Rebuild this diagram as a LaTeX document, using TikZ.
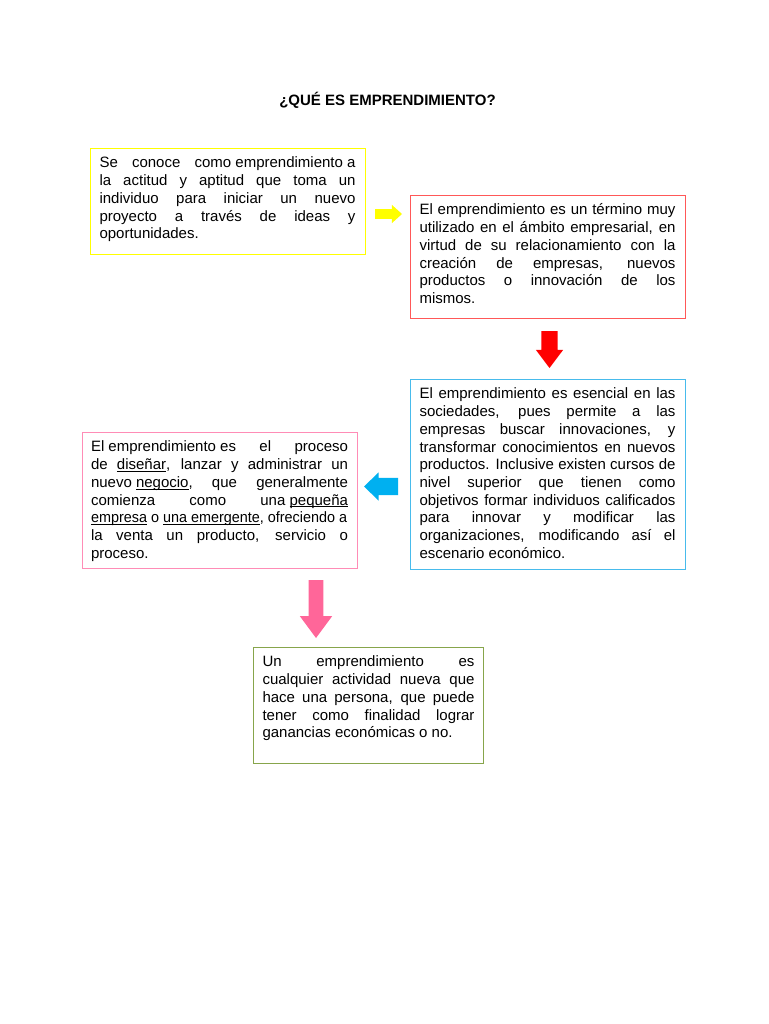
\documentclass[tikz,border=0pt]{standalone}
\usepackage{fontspec}
\usepackage{graphicx}
\setmainfont{Liberation Sans}
\usetikzlibrary{shapes.arrows,calc}
\definecolor{ybox}{RGB}{255,255,0}
\definecolor{rbox}{RGB}{255,88,88}
\definecolor{bbox}{RGB}{72,187,236}
\definecolor{pbox}{RGB}{255,140,182}
\definecolor{gbox}{RGB}{135,165,75}
\definecolor{yarr}{RGB}{255,255,0}
\definecolor{rarr}{RGB}{255,0,0}
\definecolor{carr}{RGB}{0,176,240}
\definecolor{parr}{RGB}{255,102,153}
\newcommand\myul[1]{\underline{\smash{#1}}}
\tolerance=10000
\hyphenpenalty=10000
\begin{document}
\begin{tikzpicture}[x=1pt,y=1pt,
  box/.style={draw, line width=1.4pt, anchor=north west, inner sep=0pt},
  txt/.style={anchor=north west, inner sep=0pt, outer sep=0pt, text width=256pt,
    align=justify, font=\fontsize{15pt}{17.7pt}\selectfont},
  blockarrow/.style={single arrow, draw=none, anchor=tail, inner xsep=0pt,
    outer sep=0pt}]
\useasboundingbox[fill=white] (0,0) rectangle (768,-1024);

\node[anchor=base, font=\fontsize{15pt}{18pt}\selectfont\bfseries] (title) at (387.5,-106) {¿QUÉ ES EMPRENDIMIENTO?};

% boxes
\node[box, draw=ybox, minimum width=275pt, minimum height=106pt] (b1) at (90,-148) {};
\node[box, draw=rbox, minimum width=275pt, minimum height=123pt] (b2) at (410,-195) {};
\node[box, draw=bbox, minimum width=275pt, minimum height=190pt] (b3) at (410,-379) {};
\node[box, draw=pbox, minimum width=275pt, minimum height=136pt] (b4) at (82,-432) {};
\node[box, draw=gbox, minimum width=230pt, minimum height=116pt] (b5) at (253,-647) {};

% texts
\node[txt] (t1) at ($(b1.north west)+(9.5,-7.6)$) {\strut Se\hfill conoce\hfill como emprendimiento a\linebreak
la actitud y aptitud que toma un\linebreak
individuo para iniciar un nuevo\linebreak
proyecto a través de ideas y\linebreak
oportunidades.};

\node[txt] (t2) at ($(b2.north west)+(9.5,-7.6)$) {\strut El emprendimiento es un término muy\linebreak
utilizado en el ámbito empresarial, en\linebreak
virtud de su relacionamiento con la\linebreak
creación de empresas, nuevos\linebreak
productos o innovación de los\linebreak
mismos.};

\node[txt] (t3) at ($(b3.north west)+(9.5,-7.6)$) {\strut El emprendimiento es esencial en las\linebreak
sociedades, pues permite a las\linebreak
empresas buscar innovaciones, y\linebreak
transformar conocimientos en nuevos\linebreak
productos. Inclusive existen cursos de\linebreak
nivel superior que tienen como\linebreak
objetivos formar individuos calificados\linebreak
para innovar y modificar las\linebreak
organizaciones, modificando así el\linebreak
escenario económico.};

\node[txt, text width=257pt] (t4) at ($(b4.north west)+(9,-7.6)$) {\strut El emprendimiento es\hfill el\hfill proceso\linebreak
de \myul{diseñar}, lanzar y administrar un\linebreak
nuevo \myul{negocio},\hfill que\hfill generalmente\linebreak
comienza\hfill como\hfill una \myul{pequeña}\linebreak
\scalebox{0.96}[1]{\myul{empresa} o \myul{una emergente}, ofreciendo a}\linebreak
la venta un producto, servicio o\linebreak
proceso.};

\node[txt, text width=212pt] (t5) at ($(b5.north west)+(9.5,-7.6)$) {\strut Un\hfill emprendimiento\hfill es\linebreak
cualquier actividad nueva que\linebreak
hace una persona, que puede\linebreak
tener como finalidad lograr\linebreak
ganancias económicas o no.};

% block arrows
\node[blockarrow, fill=yarr, minimum height=27pt, inner ysep=4.75pt,
  single arrow head extend=4.25pt, single arrow tip angle=84] (a1) at (375,-214) {};
\node[blockarrow, fill=rarr, rotate=-90, minimum height=37pt, inner ysep=8pt,
  single arrow head extend=5.5pt, single arrow tip angle=74] (a2) at (549.5,-331) {};
\node[blockarrow, fill=carr, rotate=180, minimum height=34pt, inner ysep=8.5pt,
  single arrow head extend=5.5pt, single arrow tip angle=88] (a3) at (398,-486.5) {};
\node[blockarrow, fill=parr, rotate=-90, minimum height=58pt, inner ysep=7.15pt,
  single arrow head extend=8.85pt, single arrow tip angle=73] (a4) at (316,-580) {};
\end{tikzpicture}
\end{document}
